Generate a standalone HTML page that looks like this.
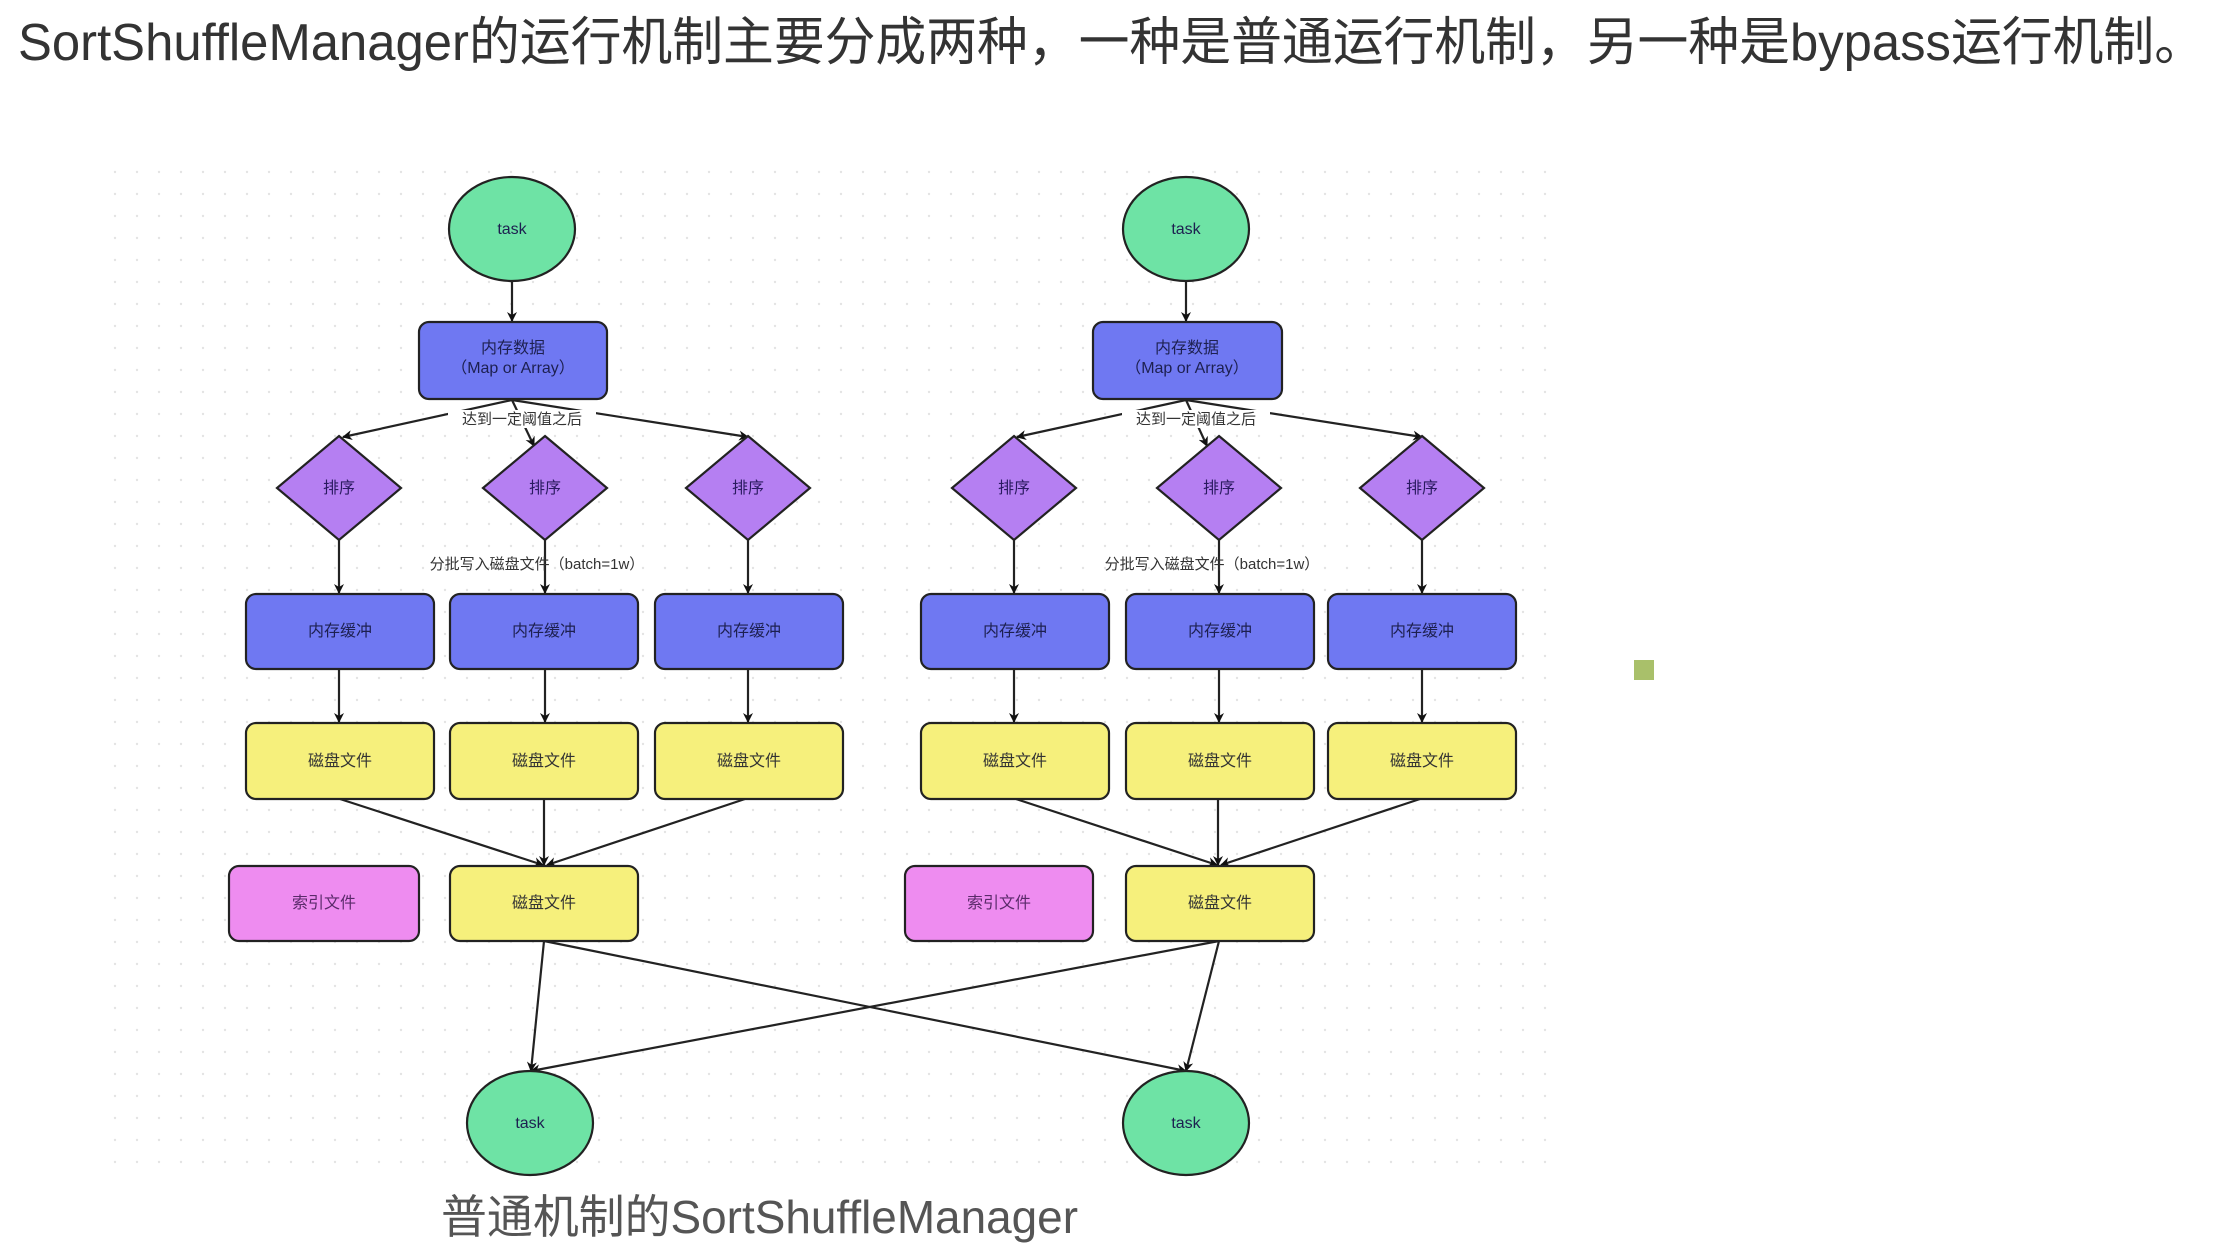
<!DOCTYPE html>
<html><head><meta charset="utf-8"><style>
html,body{margin:0;padding:0;background:#fff;}
svg{display:block;}
</style></head><body>
<svg width="2218" height="1246" viewBox="0 0 2218 1246" xmlns="http://www.w3.org/2000/svg" font-family="Liberation Sans, Noto Sans CJK SC, sans-serif">
<defs>
<pattern id="dots" x="113" y="170" width="22" height="22" patternUnits="userSpaceOnUse"><circle cx="2" cy="2" r="1.2" fill="#e4e4e4"/></pattern>
<marker id="ar" markerWidth="10" markerHeight="10" refX="9" refY="5" orient="auto" markerUnits="userSpaceOnUse"><path d="M0,0 L10,5 L0,10 L3,5 z" fill="#111"/></marker>
</defs>
<rect x="113" y="170" width="1443" height="1004" fill="url(#dots)"/>
<text x="18" y="60" font-size="52" fill="#333" textLength="2187" lengthAdjust="spacingAndGlyphs">SortShuffleManager的运行机制主要分成两种，一种是普通运行机制，另一种是bypass运行机制。</text>
<text x="441" y="1233" font-size="46" fill="#555" textLength="637" lengthAdjust="spacingAndGlyphs">普通机制的SortShuffleManager</text>
<rect x="1634" y="660" width="20" height="20" fill="#a9c06a"/>
<g stroke="#222" stroke-width="2.2" fill="none" marker-end="url(#ar)">
<!-- left -->
<line x1="512" y1="281" x2="512" y2="321"/>
<line x1="512" y1="400" x2="343" y2="437"/>
<line x1="512" y1="400" x2="534" y2="446"/>
<line x1="512" y1="400" x2="748" y2="437"/>
<line x1="339" y1="540" x2="339" y2="593"/>
<line x1="545" y1="540" x2="545" y2="593"/>
<line x1="748" y1="540" x2="748" y2="593"/>
<line x1="339" y1="669" x2="339" y2="722"/>
<line x1="545" y1="669" x2="545" y2="722"/>
<line x1="748" y1="669" x2="748" y2="722"/>
<line x1="340" y1="799" x2="543" y2="865"/>
<line x1="544" y1="799" x2="544" y2="865"/>
<line x1="745" y1="799" x2="547" y2="865"/>
<!-- right -->
<line x1="1186" y1="281" x2="1186" y2="321"/>
<line x1="1186" y1="400" x2="1017" y2="437"/>
<line x1="1186" y1="400" x2="1207" y2="446"/>
<line x1="1186" y1="400" x2="1422" y2="437"/>
<line x1="1014" y1="540" x2="1014" y2="593"/>
<line x1="1219" y1="540" x2="1219" y2="593"/>
<line x1="1422" y1="540" x2="1422" y2="593"/>
<line x1="1014" y1="669" x2="1014" y2="722"/>
<line x1="1219" y1="669" x2="1219" y2="722"/>
<line x1="1422" y1="669" x2="1422" y2="722"/>
<line x1="1016" y1="799" x2="1217" y2="865"/>
<line x1="1218" y1="799" x2="1218" y2="865"/>
<line x1="1420" y1="799" x2="1221" y2="865"/>
<!-- crossing -->
<line x1="544" y1="941" x2="531" y2="1071"/>
<line x1="544" y1="941" x2="1186" y2="1071"/>
<line x1="1219" y1="941" x2="531" y2="1071"/>
<line x1="1219" y1="941" x2="1186" y2="1071"/>
</g>
<g stroke="#222" stroke-width="2.2">
<ellipse cx="512" cy="229" rx="63" ry="52" fill="#6ee3a5"/>
<ellipse cx="1186" cy="229" rx="63" ry="52" fill="#6ee3a5"/>
<ellipse cx="530" cy="1123" rx="63" ry="52" fill="#6ee3a5"/>
<ellipse cx="1186" cy="1123" rx="63" ry="52" fill="#6ee3a5"/>
<rect x="419" y="322" width="188" height="77" rx="10" fill="#6f78f2"/>
<rect x="1093" y="322" width="189" height="77" rx="10" fill="#6f78f2"/>
<polygon points="339,436 401,488 339,540 277,488" fill="#b57ff2"/>
<polygon points="545,436 607,488 545,540 483,488" fill="#b57ff2"/>
<polygon points="748,436 810,488 748,540 686,488" fill="#b57ff2"/>
<polygon points="1014,436 1076,488 1014,540 952,488" fill="#b57ff2"/>
<polygon points="1219,436 1281,488 1219,540 1157,488" fill="#b57ff2"/>
<polygon points="1422,436 1484,488 1422,540 1360,488" fill="#b57ff2"/>
<g fill="#6f78f2">
<rect x="246" y="594" width="188" height="75" rx="10"/><rect x="450" y="594" width="188" height="75" rx="10"/><rect x="655" y="594" width="188" height="75" rx="10"/>
<rect x="921" y="594" width="188" height="75" rx="10"/><rect x="1126" y="594" width="188" height="75" rx="10"/><rect x="1328" y="594" width="188" height="75" rx="10"/>
</g>
<g fill="#f6f07c">
<rect x="246" y="723" width="188" height="76" rx="10"/><rect x="450" y="723" width="188" height="76" rx="10"/><rect x="655" y="723" width="188" height="76" rx="10"/>
<rect x="921" y="723" width="188" height="76" rx="10"/><rect x="1126" y="723" width="188" height="76" rx="10"/><rect x="1328" y="723" width="188" height="76" rx="10"/>
<rect x="450" y="866" width="188" height="75" rx="10"/><rect x="1126" y="866" width="188" height="75" rx="10"/>
</g>
<g fill="#ee8cf0">
<rect x="229" y="866" width="190" height="75" rx="10"/><rect x="905" y="866" width="188" height="75" rx="10"/>
</g>
</g>
<g font-size="16" fill="#1d2050" text-anchor="middle">
<text x="512" y="234">task</text><text x="1186" y="234">task</text><text x="530" y="1128">task</text><text x="1186" y="1128">task</text>
<text x="513" y="353">内存数据</text><text x="513" y="373">（Map or Array）</text>
<text x="1187" y="353">内存数据</text><text x="1187" y="373">（Map or Array）</text>
<g fill="#2a1a60">
<text x="339" y="493">排序</text><text x="545" y="493">排序</text><text x="748" y="493">排序</text>
<text x="1014" y="493">排序</text><text x="1219" y="493">排序</text><text x="1422" y="493">排序</text>
</g>
<text x="340" y="636">内存缓冲</text><text x="544" y="636">内存缓冲</text><text x="749" y="636">内存缓冲</text>
<text x="1015" y="636">内存缓冲</text><text x="1220" y="636">内存缓冲</text><text x="1422" y="636">内存缓冲</text>
<g fill="#333">
<text x="340" y="766">磁盘文件</text><text x="544" y="766">磁盘文件</text><text x="749" y="766">磁盘文件</text>
<text x="1015" y="766">磁盘文件</text><text x="1220" y="766">磁盘文件</text><text x="1422" y="766">磁盘文件</text>
<text x="544" y="908">磁盘文件</text><text x="1220" y="908">磁盘文件</text>
</g>
<g fill="#5a2a6a"><text x="324" y="908">索引文件</text><text x="999" y="908">索引文件</text></g>
</g>
<g font-size="15" fill="#333" text-anchor="middle">
<rect x="448" y="410" width="148" height="18" fill="#fff"/>
<text x="522" y="424">达到一定阈值之后</text>
<rect x="1122" y="410" width="148" height="18" fill="#fff"/>
<text x="1196" y="424">达到一定阈值之后</text>
<text x="537" y="569">分批写入磁盘文件（batch=1w）</text>
<text x="1212" y="569">分批写入磁盘文件（batch=1w）</text>
</g>
</svg>
</body></html>
